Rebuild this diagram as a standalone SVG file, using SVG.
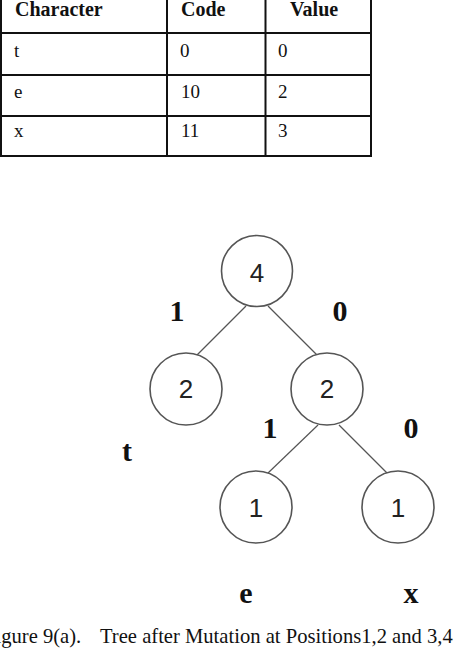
<svg xmlns="http://www.w3.org/2000/svg" width="454" height="648" viewBox="0 0 454 648">
<style>
.grid{stroke:#111;stroke-width:2;fill:none}
.th{font-family:"Liberation Serif",serif;font-weight:bold;font-size:20px;fill:#111}
.td{font-family:"Liberation Serif",serif;font-size:19px;fill:#111}
.node{fill:#fff;stroke:#555;stroke-width:1.6}
.num{font-family:"Liberation Sans",sans-serif;font-size:26px;fill:#222;text-anchor:middle}
.edge{stroke:#555;stroke-width:1.2}
.lbl{font-family:"Liberation Serif",serif;font-weight:bold;font-size:30px;fill:#111;text-anchor:middle}
.cap{font-family:"Liberation Serif",serif;font-size:20.6px;fill:#111}
</style>
<rect width="454" height="648" fill="#fff"/>
<g id="table">
<path class="grid" d="M1,-2V156M167,-2V156M265.5,-2V156M371,-2V156M1,33H371M1,75H371M1,116H371M0,156H372"/>
<text class="th" x="15" y="16">Character</text>
<text class="th" x="181" y="16">Code</text>
<text class="th" x="290" y="16">Value</text>
<text class="td" x="14" y="57">t</text>
<text class="td" x="180" y="57">0</text>
<text class="td" x="278" y="57">0</text>
<text class="td" x="14" y="98">e</text>
<text class="td" x="181" y="98">10</text>
<text class="td" x="278" y="98">2</text>
<text class="td" x="14" y="137">x</text>
<text class="td" x="181" y="137">11</text>
<text class="td" x="278" y="137">3</text>
</g>
<g id="connectors">
<line class="edge" x1="246" y1="306" x2="197" y2="355"/>
<line class="edge" x1="268" y1="306" x2="317" y2="355"/>
<line class="edge" x1="318" y1="425" x2="268" y2="473"/>
<line class="edge" x1="339" y1="425" x2="387" y2="473"/>
</g>
<g id="n-root"><circle class="node" cx="257" cy="271" r="35.5"/><text class="num" x="257" y="282">4</text></g>
<g id="n-left"><circle class="node" cx="186" cy="389" r="36"/><text class="num" x="186" y="398">2</text></g>
<g id="n-right"><circle class="node" cx="327" cy="389" r="36"/><text class="num" x="327" y="398">2</text></g>
<g id="n-e"><circle class="node" cx="256" cy="507" r="36"/><text class="num" x="256" y="517">1</text></g>
<g id="n-x"><circle class="node" cx="398" cy="507" r="36"/><text class="num" x="398" y="517">1</text></g>
<g id="labels">
<text class="lbl" x="177" y="321">1</text>
<text class="lbl" x="340" y="321">0</text>
<text class="lbl" x="270" y="438">1</text>
<text class="lbl" x="411" y="438">0</text>
<text class="lbl" x="127" y="461">t</text>
<text class="lbl" x="246" y="603">e</text>
<text class="lbl" x="411" y="603">x</text>
</g>
<text class="cap" y="643"><tspan x="-16">Figure 9(a).</tspan><tspan x="100">Tree after Mutation at Positions1,2 and 3,4</tspan></text>
</svg>
